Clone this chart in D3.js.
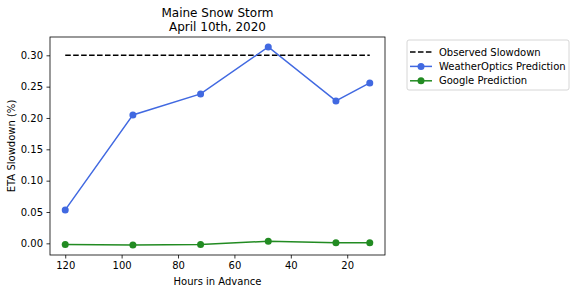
<!DOCTYPE html>
<html>
<head>
<meta charset="utf-8">
<script src="https://cdn.jsdelivr.net/npm/d3@7"></script>
<style>
  html, body { margin: 0; padding: 0; background: #fff; }
  svg { display: block; font-family: "DejaVu Sans", sans-serif; }
</style>
</head>
<body>
<div id="chart"></div>
<script>
const hours = [120, 96, 72, 48, 24, 12];
const observed = [0.30, 0.30, 0.30, 0.30, 0.30, 0.30];
const weatherOptics = [0.0533, 0.2049, 0.2384, 0.3134, 0.2272, 0.2559];
const google = [-0.0018, -0.0028, -0.0018, 0.0033, 0.0009, 0.0009];
const xTicks = [120, 100, 80, 60, 40, 20];
const yTicks = [0.00, 0.05, 0.10, 0.15, 0.20, 0.25, 0.30];

const W = 576, H = 293;
const margin = { top: 37, right: 191, bottom: 38, left: 50 };
const innerW = W - margin.left - margin.right;
const innerH = H - margin.top - margin.bottom;

const svg = d3.select('#chart').append('svg').attr('width', W).attr('height', H);
const g = svg.append('g').attr('transform', `translate(${margin.left},${margin.top})`);

const x = d3.scaleLinear().domain([125.4, 6.6]).range([0, innerW]);
const y = d3.scaleLinear().domain([-0.0186, 0.3292]).range([innerH, 0]);

// axes
const xAxis = g.append('g').attr('transform', `translate(0,${innerH})`)
  .call(d3.axisBottom(x).tickValues(xTicks).tickSize(3.5).tickPadding(3.5).tickFormat(d3.format('d')));
const yAxis = g.append('g')
  .call(d3.axisLeft(y).tickValues(yTicks).tickSize(3.5).tickPadding(3.5).tickFormat(d3.format('.2f')));
[xAxis, yAxis].forEach((a) => {
  a.select('.domain').remove();
  a.selectAll('line').attr('stroke', '#000').attr('stroke-width', 0.8);
  a.selectAll('text').attr('fill', '#000').attr('font-size', 10).attr('font-family', 'DejaVu Sans');
});

// frame
g.append('rect').attr('width', innerW).attr('height', innerH)
  .attr('fill', 'none').attr('stroke', '#000').attr('stroke-width', 0.8);

const line = d3.line().x((d, i) => x(hours[i])).y((d) => y(d));

// observed
g.append('path').attr('d', line(observed)).attr('fill', 'none')
  .attr('stroke', '#000').attr('stroke-width', 1.5).attr('stroke-dasharray', '5.55,2.4');

const series = [
  { name: 'WeatherOptics Prediction', values: weatherOptics, color: '#4169e1' },
  { name: 'Google Prediction', values: google, color: '#228b22' },
];
series.forEach((s) => {
  g.append('path').attr('d', line(s.values)).attr('fill', 'none')
    .attr('stroke', s.color).attr('stroke-width', 1.5);
  g.selectAll(null).data(s.values).enter().append('circle')
    .attr('cx', (d, i) => x(hours[i])).attr('cy', (d) => y(d)).attr('r', 3.5)
    .attr('fill', s.color);
});

// title
const title = svg.append('text').attr('x', margin.left + innerW / 2).attr('text-anchor', 'middle')
  .attr('font-size', 12).attr('fill', '#000');
title.append('tspan').attr('x', margin.left + innerW / 2).attr('y', 17).text('Maine Snow Storm');
title.append('tspan').attr('x', margin.left + innerW / 2).attr('y', 31).text('April 10th, 2020');

// axis labels
svg.append('text').attr('x', margin.left + innerW / 2).attr('y', 285)
  .attr('text-anchor', 'middle').attr('font-size', 10).text('Hours in Advance');
svg.append('text').attr('transform', `translate(15,${margin.top + innerH / 2}) rotate(-90)`)
  .attr('text-anchor', 'middle').attr('font-size', 10).text('ETA Slowdown (%)');

// legend
const lg = svg.append('g').attr('transform', 'translate(407,40)');
lg.append('rect').attr('width', 162).attr('height', 50).attr('rx', 2)
  .attr('fill', '#fff').attr('stroke', '#ccc').attr('stroke-width', 0.8);
const entries = [
  { name: 'Observed Slowdown', color: '#000', dash: '5.55,2.4', marker: false },
  { name: series[0].name, color: series[0].color, dash: null, marker: true },
  { name: series[1].name, color: series[1].color, dash: null, marker: true },
];
entries.forEach((e, i) => {
  const yy = 12 + i * 14.4;
  lg.append('line').attr('x1', 3).attr('x2', 25).attr('y1', yy).attr('y2', yy)
    .attr('stroke', e.color).attr('stroke-width', 1.5).attr('stroke-dasharray', e.dash);
  if (e.marker) lg.append('circle').attr('cx', 14).attr('cy', yy).attr('r', 3.5).attr('fill', e.color);
  lg.append('text').attr('x', 32).attr('y', yy + 3.6).attr('font-size', 10).text(e.name);
});
</script>
</body>
</html>
